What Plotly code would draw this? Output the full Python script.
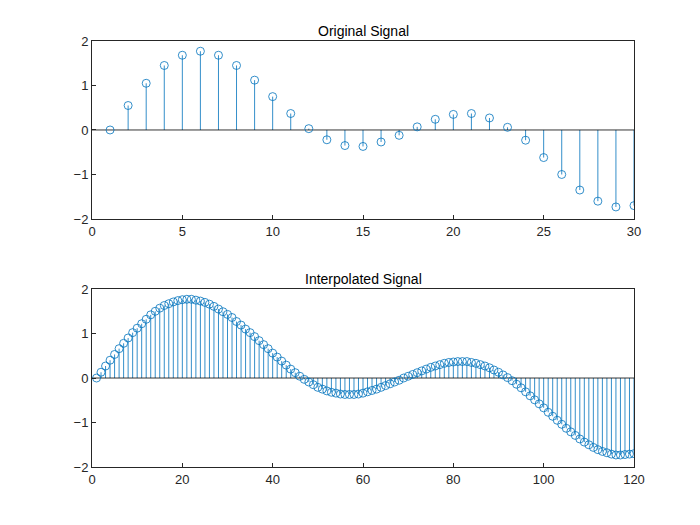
import plotly.graph_objects as go
from plotly.subplots import make_subplots

orig_y = [0, 0.55, 1.05, 1.45, 1.68, 1.77, 1.68, 1.45, 1.12, 0.75,
          0.37, 0.03, -0.22, -0.35, -0.37, -0.27, -0.12, 0.07, 0.24, 0.35,
          0.37, 0.27, 0.06, -0.23, -0.62, -1.0, -1.35, -1.6, -1.73, -1.7]
orig_x = list(range(1, len(orig_y) + 1))

interp_y = [0, 0.13, 0.27, 0.40, 0.53, 0.66, 0.78, 0.90, 1.02, 1.12,
            1.22, 1.32, 1.42, 1.50, 1.57, 1.63, 1.67, 1.71, 1.74, 1.76,
            1.77, 1.77, 1.75, 1.73, 1.70, 1.66, 1.61, 1.55, 1.49, 1.43,
            1.36, 1.27, 1.19, 1.10, 1.02, 0.93, 0.84, 0.75, 0.66, 0.56,
            0.47, 0.38, 0.29, 0.20, 0.12, 0.04, -0.03, -0.09, -0.15, -0.21,
            -0.25, -0.29, -0.32, -0.34, -0.36, -0.37, -0.37, -0.37, -0.36, -0.34,
            -0.31, -0.28, -0.25, -0.21, -0.17, -0.13, -0.09, -0.05, 0.00, 0.04,
            0.08, 0.12, 0.16, 0.20, 0.24, 0.27, 0.30, 0.33, 0.35, 0.36,
            0.37, 0.37, 0.37, 0.35, 0.33, 0.30, 0.27, 0.23, 0.18, 0.13,
            0.07, 0.01, -0.06, -0.14, -0.22, -0.31, -0.40, -0.49, -0.58, -0.67,
            -0.77, -0.86, -0.95, -1.04, -1.13, -1.21, -1.29, -1.37, -1.44, -1.50,
            -1.56, -1.61, -1.65, -1.68, -1.71, -1.73, -1.73, -1.72, -1.71, -1.70]
interp_x = list(range(1, len(interp_y) + 1))

COLOR = '#0072BD'

fig = make_subplots(rows=2, cols=1, vertical_spacing=0.1645,
                    subplot_titles=('Original Signal', 'Interpolated Signal'))


def stem(x, y, row, xmax):
    sx, sy = [], []
    for a, b in zip(x, y):
        sx += [a, a, None]
        sy += [0, b, None]
    fig.add_trace(go.Scatter(x=sx, y=sy, mode='lines',
                             line=dict(color=COLOR, width=0.8),
                             hoverinfo='skip'), row=row, col=1)
    fig.add_trace(go.Scatter(x=[0, xmax], y=[0, 0], mode='lines',
                             line=dict(color='black', width=0.8)), row=row, col=1)
    fig.add_trace(go.Scatter(x=x, y=y, mode='markers',
                             marker=dict(symbol='circle-open', size=8, color=COLOR,
                                         line=dict(width=0.8))), row=row, col=1)


stem(orig_x, orig_y, 1, 30)
stem(interp_x, interp_y, 2, 120)

axis_style = dict(showgrid=False, zeroline=False, showline=True, mirror=True,
                  linecolor='#262626', linewidth=1, ticks='inside', ticklen=4,
                  tickcolor='#262626', tickfont=dict(size=13, color='#262626'))
fig.update_xaxes(ticklabelstandoff=0, **axis_style)
fig.update_yaxes(**axis_style)
fig.update_xaxes(range=[0, 30], dtick=5, row=1, col=1)
fig.update_xaxes(range=[0, 120], dtick=20, row=2, col=1)
fig.update_yaxes(range=[-2, 2], dtick=1, row=1, col=1)
fig.update_yaxes(range=[-2, 2], dtick=1, row=2, col=1)

for ann in fig.layout.annotations:
    ann.font = dict(size=14, color='black', family='Liberation Sans, Arial')

fig.update_layout(width=700, height=525, showlegend=False,
                  margin=dict(l=84, r=74, t=33, b=66),
                  paper_bgcolor='white', plot_bgcolor='white',
                  font=dict(family='Liberation Sans, Arial'))

fig.write_html("out.html")
